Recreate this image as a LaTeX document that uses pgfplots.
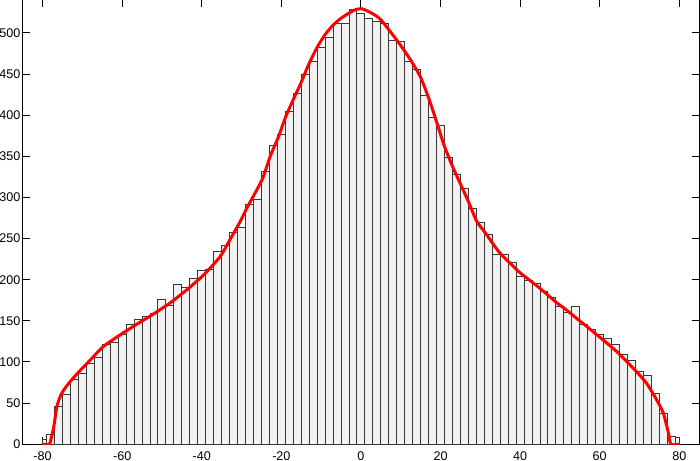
\documentclass[border=0pt]{standalone}
\usepackage{fontspec}
\setmainfont{Liberation Sans}
\usepackage{pgfplots}
\pgfplotsset{compat=1.18}
\definecolor{barfill}{RGB}{242,242,242}
\definecolor{baredge}{RGB}{55,55,55}
\begin{document}
\begin{tikzpicture}
\begin{axis}[
  name=ax,
  scale only axis,
  width=338.25pt, height=222.15pt,
  xmin=-85, xmax=85, ymin=0, ymax=540,
  xtick={-80,-60,...,80},
  ytick={0,50,...,500},
  tick align=inside,
  major tick length=3.5pt,
  axis line style={line width=0.5pt, black},
  tick style={line width=0.5pt, black},
  ticklabel style={font=\fontsize{6.3pt}{7pt}\selectfont},
  yticklabel style={inner xsep=0.9pt},
  /pgf/number format/assume math mode=true,
]
\addplot[ybar interval, fill=barfill, draw=baredge, line width=0.5pt] coordinates {
(-80,6) (-79,12) (-77,46) (-75,60) (-73,79) (-71,86) (-69,98) (-67,106)
(-65,121) (-63,124) (-61,134) (-59,146) (-57,152) (-55,155) (-53,159)
(-51,176) (-49,169) (-47,194) (-45,190) (-43,201) (-41,211) (-39,212)
(-37,234) (-35,242) (-33,258) (-31,263) (-29,292) (-27,297) (-25,331)
(-23,363) (-21,377) (-19,404) (-17,426) (-15,449) (-13,465) (-11,482)
(-9,495) (-7,511) (-5,512) (-3,528) (-1,524) (1,518) (3,514) (5,511)
(7,491) (9,489) (11,465) (13,456) (15,424) (17,397) (19,387) (21,349)
(23,328) (25,311) (27,287) (29,270) (31,255) (33,231) (35,231) (37,221)
(39,204) (41,199) (43,196) (45,186) (47,179) (49,167) (51,160) (53,167)
(55,146) (57,140) (59,133) (61,128) (63,121) (65,109) (67,102) (69,88)
(71,83) (73,62) (75,38) (77,10) (79,8) (80,0)
};
\addplot[red, line width=1.5pt, smooth, tension=0.4] coordinates {
(-80,0) (-78.3,0) (-77.8,8) (-77.2,21) (-76.4,46) (-75.2,62) (-73.1,76)
(-70.5,90) (-68,102.5) (-64.7,119) (-60.5,133) (-56.3,146) (-52.1,158.5)
(-47.9,172) (-43.7,188) (-39.5,206) (-35.4,228) (-33,248) (-30.3,271)
(-28.9,285) (-24.9,321) (-22.8,350) (-20.7,374) (-19,397) (-17,419)
(-15,440) (-13.2,461) (-11.1,481.7) (-9,498) (-6.9,510) (-4.8,518.5)
(-2.7,525) (-1.5,528) (0,529.5) (1,528) (2.7,524) (4.8,517) (7.3,502)
(9.8,486) (12.4,467.6) (14.9,447) (17,421) (19.1,390.5) (20.7,366)
(22.8,340) (24.9,317.5) (27,295) (29.1,271) (31.4,256) (34,238)
(35.4,230) (37.5,220) (39.6,210) (41.7,202) (44.2,192.6) (46.7,182.5)
(49.2,172) (51.7,163) (54.2,153) (56.8,143) (59.3,133) (61.8,123)
(64.3,112.6) (66.8,100.5) (69.3,88) (71.8,74) (74.3,54) (76,37.7)
(77.3,13) (77.9,0) (80,0)
};
\end{axis}
\pgfresetboundingbox
\path ([shift={(-11.35pt,-8.35pt)}]ax.south west) rectangle ([shift={(0.4pt,0pt)}]ax.north east);
\end{tikzpicture}
\end{document}
